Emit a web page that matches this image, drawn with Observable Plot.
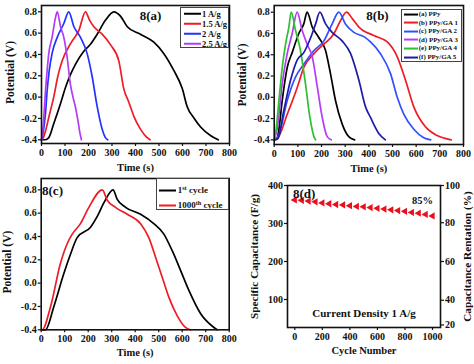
<!DOCTYPE html>
<html><head><meta charset="utf-8">
<script src="https://cdn.jsdelivr.net/npm/d3@7"></script>
<script src="https://cdn.jsdelivr.net/npm/@observablehq/plot@0.6"></script>
<style>
body{margin:0;background:#fff;}
#wrap{position:relative;width:474px;height:364px;overflow:hidden;font-family:"Liberation Serif","Times New Roman",serif;font-weight:bold;color:#111;}
.panel{position:absolute;}
.panel svg{display:block;}
.legend{position:absolute;background:#fff;border:1px solid #444;box-sizing:border-box;overflow:hidden;}
.legrow{position:absolute;display:flex;align-items:center;white-space:nowrap;line-height:1;}
.sw{display:inline-block;border-top:2px solid;margin-right:1px;}
sup{font-size:70%;vertical-align:0.45em;line-height:0;}
</style></head><body><div id="wrap"></div>
<script>
// ---------- Panel 8(a): GCD at different current densities ----------
const a_names = ["1 A/g", "1.5 A/g", "2 A/g", "2.5 A/g"];
const a_colors = ["#000000", "#ee1c25", "#2233ff", "#b43cf5"];
const a_1_t = [0,15,31,52,81,102,125,145,180,210,237,272,308,336,365,421,478,520,563,599,620,650,677,719,752];
const a_1_v = [-0.4,-0.4,-0.38,-0.25,-0.06,0.09,0.22,0.31,0.43,0.5,0.59,0.72,0.8,0.76,0.66,0.59,0.515,0.41,0.25,0.08,-0.09,-0.2,-0.28,-0.36,-0.4];
const a_15_t = [0,8,17,31,52,70,88,123,159,187,205,223,258,294,329,350,372,393,421,445,462];
const a_15_v = [-0.4,-0.38,-0.32,-0.19,0.0,0.2,0.34,0.5,0.625,0.8,0.72,0.66,0.59,0.49,0.34,0.08,-0.05,-0.18,-0.3,-0.37,-0.4];
const a_2_t = [0,8,17,24,33,45,67,95,116,138,166,194,215,237,258,272,282];
const a_2_v = [-0.4,-0.32,-0.15,0.06,0.25,0.41,0.56,0.69,0.8,0.66,0.56,0.41,0.2,-0.09,-0.3,-0.38,-0.4];
const a_25_t = [0,6,12,17,24,31,45,60,67,81,95,109,123,134,145,155,163,170];
const a_25_v = [-0.4,-0.3,-0.12,0.06,0.25,0.41,0.56,0.75,0.8,0.66,0.56,0.375,0.12,0.0,-0.1,-0.22,-0.33,-0.4];

// ---------- Panel 8(b): GCD of PPy and composites ----------
const b_names = ["(a) PPy", "(b) PPy/GA 1", "(c) PPy/GA 2", "(d) PPy/GA 3", "(e) PPy/GA 4", "(f) PPy/GA 5"];
const b_colors = ["#000000", "#ee1c25", "#3050ff", "#b43cf5", "#2ec02e", "#1c1ca8"];
const b_a_t = [0,12,20,34,55,76,104,125,139,161,189,217,238,259,287,315,340];
const b_a_v = [-0.4,-0.39,-0.3,-0.03,0.28,0.42,0.6,0.69,0.8,0.66,0.56,0.44,0.22,-0.03,-0.25,-0.37,-0.4];
const b_b_t = [0,13,55,97,125,168,210,253,280,306,330,358,421,478,520,555,590,640,689,748];
const b_b_v = [-0.4,-0.39,-0.16,0.09,0.28,0.41,0.5,0.6,0.72,0.8,0.74,0.66,0.58,0.52,0.38,0.16,-0.09,-0.28,-0.36,-0.4];
const b_c_t = [0,20,55,90,125,168,210,245,273,301,337,379,407,449,492,520,548,590,632,661];
const b_c_v = [-0.4,-0.35,-0.03,0.19,0.31,0.44,0.53,0.69,0.8,0.69,0.61,0.57,0.52,0.41,0.22,0.0,-0.16,-0.3,-0.38,-0.4];
const b_d_t = [0,13,34,55,76,97,118,139,161,182,203,224,241];
const b_d_v = [-0.4,-0.29,0.13,0.41,0.6,0.8,0.63,0.5,0.38,0.1,-0.19,-0.37,-0.4];
const b_e_t = [0,8,20,34,48,62,72,90,111,132,151,168,175];
const b_e_v = [-0.4,-0.3,-0.03,0.28,0.5,0.66,0.8,0.63,0.44,0.13,-0.19,-0.37,-0.4];
const b_f_t = [0,15,41,69,97,125,154,175,193,217,245,287,323,358,386,407,442,470];
const b_f_v = [-0.4,-0.39,-0.12,0.16,0.35,0.42,0.56,0.69,0.8,0.69,0.61,0.53,0.41,0.16,-0.09,-0.19,-0.34,-0.4];

// ---------- Panel 8(c): 1st vs 1000th cycle ----------
const c_names = ["1st cycle", "1000th cycle"];
const c_colors = ["#000000", "#ee1c25"];
const c_1_t = [0,18,54,96,125,153,210,238,267,306,323,359,423,479,522,557,593,628,678,735,749];
const c_1_v = [-0.4,-0.4,-0.2,0.08,0.25,0.39,0.48,0.57,0.69,0.8,0.72,0.65,0.59,0.51,0.42,0.28,0.11,-0.06,-0.26,-0.38,-0.4];
const c_1000_t = [0,4,40,82,111,132,167,203,260,281,316,366,423,458,487,515,543,579,614,635];
const c_1000_v = [-0.4,-0.4,-0.2,0.17,0.34,0.42,0.51,0.65,0.8,0.71,0.65,0.59,0.51,0.39,0.22,0.05,-0.12,-0.28,-0.38,-0.4];

// ---------- Panel 8(d): cycling stability ----------
const d_cycles = [0,50,100,150,200,250,300,350,400,450,500,550,600,650,700,750,800,850,900,950,1000];
const d_capacitance = [362,361,359,357,354,352,350,349,347,345,344,342,340,338,336,334,332,329,327,324,320];
const d_leftTicks = [100,200,300,400];
const d_rightTickAt = [400,302,200,98,33];
const d_rightTickLabels = ["100","80","60","40","20"];
const d_xTicks = [0,200,400,600,800,1000];

// shared ticks
const timeTicks = [0,100,200,300,400,500,600,700,800];
const potTicks = [-0.4,-0.2,0.0,0.2,0.4,0.6,0.8];

const FONT = '"Liberation Serif","Times New Roman",serif';
const INK = "#111";
const style = {fontFamily: FONT, fontSize: "10px", fontWeight: "bold", color: INK, background: "transparent", overflow: "visible"};

function rows(ts, vs, s) { return ts.map((t, i) => ({t, v: vs[i], s})); }

const wrap = document.getElementById("wrap");
function place(el, left, top) {
  const d = document.createElement("div");
  d.className = "panel"; d.style.left = left + "px"; d.style.top = top + "px";
  d.appendChild(el); wrap.appendChild(d);
}
function legend({left, top, width, height, rowTop, rowStep, swLeft, swWidth, textLeft, fontSize, names, colors}) {
  const box = document.createElement("div");
  box.className = "legend";
  Object.assign(box.style, {left: left + "px", top: top + "px", width: width + "px", height: height + "px", fontSize: fontSize + "px"});
  names.forEach((n, i) => {
    const r = document.createElement("div");
    r.className = "legrow";
    r.style.left = swLeft + "px";
    r.style.top = (rowTop + i * rowStep) + "px";
    r.style.transform = "translateY(-50%)";
    const sw = document.createElement("span");
    sw.className = "sw"; sw.style.width = swWidth + "px"; sw.style.borderTopColor = colors[i];
    sw.style.marginRight = (textLeft - swLeft - swWidth) + "px";
    const tx = document.createElement("span");
    tx.innerHTML = n.replace(/^(\d+)(st|th)/, "$1<sup>$2</sup>");
    r.appendChild(sw); r.appendChild(tx); box.appendChild(r);
  });
  wrap.appendChild(box);
}

function gcd({data, names, colors, width, height, mL, mR, mT, mB, yDom, tag, tagDx, tagDy, ylDx, ylDy, xlDy}) {
  return Plot.plot({
    width, height, marginLeft: mL, marginRight: mR, marginTop: mT, marginBottom: mB,
    style,
    x: {domain: [0, 800]},
    y: {domain: yDom},
    color: {domain: names, range: colors},
    marks: [
      Plot.axisX({ticks: timeTicks, tickSize: 3, tickPadding: 2, tickFormat: d => String(d), label: null, stroke: INK, strokeWidth: 1.2}),
      Plot.axisY({ticks: potTicks, tickSize: 3, tickPadding: 1.5, tickFormat: d => d.toFixed(1), label: null, stroke: INK, strokeWidth: 1.2}),
      Plot.line(data, {x: "t", y: "v", z: "s", stroke: "s", strokeWidth: 1.7, curve: "monotone-x"}),
      Plot.frame({stroke: INK, strokeWidth: 1.6}),
      Plot.text(["Time (s)"], {text: d => d, frameAnchor: "bottom", dy: xlDy, fontSize: 10.5, fill: INK}),
      Plot.text(["Potential (V)"], {text: d => d, frameAnchor: "left", textAnchor: "middle", lineAnchor: "middle", rotate: -90, dx: ylDx, dy: ylDy, fontSize: 11.5, fill: INK}),
      Plot.text([tag], {text: d => d, frameAnchor: "top-left", textAnchor: "middle", lineAnchor: "middle", dx: tagDx, dy: tagDy, fontSize: 13, fill: INK})
    ]
  });
}

// Panel a
const dataA = [
  ...rows(a_1_t, a_1_v, a_names[0]), ...rows(a_15_t, a_15_v, a_names[1]),
  ...rows(a_2_t, a_2_v, a_names[2]), ...rows(a_25_t, a_25_v, a_names[3])
];
place(gcd({data: dataA, names: a_names, colors: a_colors, width: 237, height: 180,
  mL: 41, mR: 8, mT: 5, mB: 37, yDom: [-0.435, 0.859], tag: "8(a)", tagDx: 109, tagDy: 10, ylDx: -31, ylDy: -2, xlDy: 27}), 0, 0);
legend({left: 180, top: 6.5, width: 48.5, height: 41, rowTop: 6.6, rowStep: 9.8, swLeft: 2.5, swWidth: 17, textLeft: 21, fontSize: 8.5, names: a_names, colors: a_colors});

// Panel b
const dataB = [
  ...rows(b_a_t, b_a_v, b_names[0]), ...rows(b_b_t, b_b_v, b_names[1]), ...rows(b_c_t, b_c_v, b_names[2]),
  ...rows(b_d_t, b_d_v, b_names[3]), ...rows(b_e_t, b_e_v, b_names[4]), ...rows(b_f_t, b_f_v, b_names[5])
];
place(gcd({data: dataB, names: b_names, colors: b_colors, width: 237, height: 180,
  mL: 36.7, mR: 11, mT: 5, mB: 36, yDom: [-0.444, 0.863], tag: "8(b)", tagDx: 103.3, tagDy: 10, ylDx: -31.7, ylDy: 0, xlDy: 27.5}), 237, 0);
legend({left: 401.3, top: 9.3, width: 61, height: 52.5, rowTop: 4, rowStep: 8.55, swLeft: 2, swWidth: 13.5, textLeft: 16.5, fontSize: 6.9, names: b_names, colors: b_colors});

// Panel c
const dataC = [...rows(c_1_t, c_1_v, c_names[0]), ...rows(c_1000_t, c_1000_v, c_names[1])];
place(gcd({data: dataC, names: c_names, colors: c_colors, width: 237, height: 189,
  mL: 40.7, mR: 8.3, mT: 3, mB: 34.7, yDom: [-0.4, 0.897], tag: "8(c)", tagDx: 11.3, tagDy: 12, ylDx: -34, ylDy: 8, xlDy: 26}), 0, 175);
legend({left: 156, top: 178, width: 72.5, height: 32, rowTop: 11.3, rowStep: 14.7, swLeft: 2.3, swWidth: 16.7, textLeft: 20.7, fontSize: 9, names: c_names, colors: c_colors});

// Panel d
const rightMap = new Map(d_rightTickAt.map((v, i) => [v, d_rightTickLabels[i]]));
const dataD = d_cycles.map((c, i) => ({c, cap: d_capacitance[i]}));
place(Plot.plot({
  width: 237, height: 189, marginLeft: 50, marginRight: 34, marginTop: 10, marginBottom: 37,
  style,
  x: {domain: [-53, 1058]},
  y: {domain: [26.3, 400]},
  marks: [
    Plot.axisX({ticks: d_xTicks, tickSize: 3, tickPadding: 2, tickFormat: d => String(d), label: null, stroke: INK, strokeWidth: 1.2}),
    Plot.axisY({ticks: d_leftTicks, tickSize: 3, tickPadding: 1.5, tickFormat: d => String(d), label: null, stroke: INK, strokeWidth: 1.2}),
    Plot.axisY({anchor: "right", ticks: d_rightTickAt, tickFormat: d => rightMap.get(d), tickSize: 3, tickPadding: 1.5, label: null, stroke: INK, strokeWidth: 1.2}),
    Plot.dot(dataD, {x: "c", y: "cap", symbol: "triangle", r: 2.7, fill: "#e8101e", rotate: -90}),
    Plot.frame({stroke: INK, strokeWidth: 1.6}),
    Plot.text(["Cycle Number"], {text: d => d, frameAnchor: "bottom", dy: 26, fontSize: 10.5, fill: INK}),
    Plot.text(["Specific Capacitance (F/g)"], {text: d => d, frameAnchor: "left", textAnchor: "middle", lineAnchor: "middle", rotate: -90, dx: -33.3, fontSize: 11.2, fill: INK}),
    Plot.text(["Capacitance Rentation (%)"], {text: d => d, frameAnchor: "right", textAnchor: "middle", lineAnchor: "middle", rotate: -90, dx: 27, fontSize: 11.2, fill: INK}),
    Plot.text(["8(d)"], {text: d => d, frameAnchor: "top-left", textAnchor: "middle", lineAnchor: "middle", dx: 16.7, dy: 8.3, fontSize: 13, fill: INK}),
    Plot.text(["85%"], {text: d => d, frameAnchor: "top-right", textAnchor: "middle", lineAnchor: "middle", dx: -18, dy: 15, fontSize: 10.5, fill: INK}),
    Plot.text(["Current Density 1 A/g"], {text: d => d, frameAnchor: "bottom", textAnchor: "middle", lineAnchor: "middle", dy: -14.3, fontSize: 11, fill: INK})
  ]
}), 237, 175);
</script></body></html>
